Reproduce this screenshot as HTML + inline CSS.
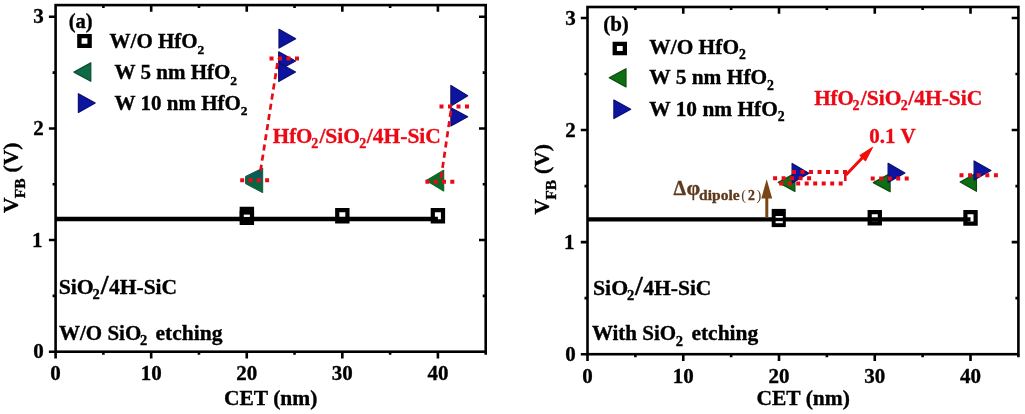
<!DOCTYPE html><html><head><meta charset="utf-8"><style>html,body{margin:0;padding:0;background:#fff;overflow:hidden}svg{display:block}</style></head><body>
<svg width="1025" height="414" viewBox="0 0 1025 414">
<defs><linearGradient id="gt" x1="0" y1="0" x2="0" y2="1"><stop offset="0" stop-color="#0c5560"/><stop offset="0.45" stop-color="#0d5f4a"/><stop offset="1" stop-color="#0e6a30"/></linearGradient></defs>
<rect width="1025" height="414" fill="#fff"/>
<rect x="55.60" y="5.10" width="430.10" height="346.60" fill="none" stroke="#000" stroke-width="2.6"/>
<path d="M55.60,351.70V358.40M103.39,351.70V354.70M103.39,5.10V8.10M151.18,351.70V358.40M151.18,5.10V11.80M198.97,351.70V354.70M198.97,5.10V8.10M246.76,351.70V358.40M246.76,5.10V11.80M294.54,351.70V354.70M294.54,5.10V8.10M342.33,351.70V358.40M342.33,5.10V11.80M390.12,351.70V354.70M390.12,5.10V8.10M437.91,351.70V358.40M437.91,5.10V11.80M485.70,351.70V354.70M55.60,351.70H48.90M55.60,295.88H52.60M485.70,295.88H482.70M55.60,240.07H48.90M485.70,240.07H479.00M55.60,184.25H52.60M485.70,184.25H482.70M55.60,128.43H48.90M485.70,128.43H479.00M55.60,72.62H52.60M485.70,72.62H482.70M55.60,16.80H48.90M485.70,16.80H479.00" stroke="#000" stroke-width="2.6" fill="none"/>
<text x="55.60" y="380.20" font-family="'Liberation Serif', serif" font-weight="bold" font-size="21" fill="#000" stroke="#000" stroke-width="0.35" text-anchor="middle">0</text>
<text x="151.18" y="380.20" font-family="'Liberation Serif', serif" font-weight="bold" font-size="21" fill="#000" stroke="#000" stroke-width="0.35" text-anchor="middle">10</text>
<text x="246.76" y="380.20" font-family="'Liberation Serif', serif" font-weight="bold" font-size="21" fill="#000" stroke="#000" stroke-width="0.35" text-anchor="middle">20</text>
<text x="342.33" y="380.20" font-family="'Liberation Serif', serif" font-weight="bold" font-size="21" fill="#000" stroke="#000" stroke-width="0.35" text-anchor="middle">30</text>
<text x="437.91" y="380.20" font-family="'Liberation Serif', serif" font-weight="bold" font-size="21" fill="#000" stroke="#000" stroke-width="0.35" text-anchor="middle">40</text>
<text x="43.80" y="358.20" font-family="'Liberation Serif', serif" font-weight="bold" font-size="21" fill="#000" stroke="#000" stroke-width="0.35" text-anchor="end">0</text>
<text x="42.40" y="246.57" font-family="'Liberation Serif', serif" font-weight="bold" font-size="21" fill="#000" stroke="#000" stroke-width="0.35" text-anchor="end">1</text>
<text x="43.80" y="134.93" font-family="'Liberation Serif', serif" font-weight="bold" font-size="21" fill="#000" stroke="#000" stroke-width="0.35" text-anchor="end">2</text>
<text x="43.80" y="23.30" font-family="'Liberation Serif', serif" font-weight="bold" font-size="21" fill="#000" stroke="#000" stroke-width="0.35" text-anchor="end">3</text>
<text x="224.00" y="404.70" font-family="'Liberation Serif', serif" font-weight="bold" font-size="21.5" fill="#000" stroke="#000" stroke-width="0.35">CET (nm)</text>
<text transform="translate(18.10,212.90) rotate(-90)" font-family="'Liberation Serif', serif" font-weight="bold" font-size="21.5" stroke="#000" stroke-width="0.35"><tspan x="0" y="0">V</tspan><tspan x="14.7" y="7.3" font-size="15.5">FB</tspan><tspan x="40.5" y="0">(V)</tspan></text>
<line x1="55.60" y1="219" x2="437.91" y2="219" stroke="#000" stroke-width="4.4"/>
<path d="M239.66,206.80h14.40v14.40h-14.40z M243.86,211.00v6.00h6.00v-6.00z" fill="#000" fill-rule="evenodd"/>
<path d="M239.66,210.50h14.40v14.40h-14.40z M243.86,214.70v6.00h6.00v-6.00z" fill="#000" fill-rule="evenodd"/>
<rect x="243.76" y="214.8" width="6" height="2" fill="#fff"/>
<path d="M335.13,207.95h14.40v15.50h-14.40z M339.33,212.15v7.10h6.00v-7.10z" fill="#000" fill-rule="evenodd"/>
<path d="M430.71,207.95h14.40v15.50h-14.40z M434.91,212.15v7.10h6.00v-7.10z" fill="#000" fill-rule="evenodd"/>
<path d="M245.6,176.4L262.7,168.1L262.7,192.7L245.6,183.7z" fill="url(#gt)" stroke="#0d6045" stroke-width="1" stroke-linejoin="round"/>
<path d="M426.35,180.60L443.65,170.30L443.65,190.90z" fill="#0c6a28" stroke="#0c6a28" stroke-width="1.2" stroke-linejoin="round"/>
<path d="M295.70,38.70L279.00,29.30L279.00,48.10z" fill="#0c14a0" stroke="#0a0e70" stroke-width="1.2" stroke-linejoin="round"/>
<path d="M295.50,61.00L278.70,51.90L278.70,70.10z" fill="#0c14a0" stroke="#0a0e70" stroke-width="1.2" stroke-linejoin="round"/>
<path d="M295.50,72.10L278.70,62.70L278.70,81.50z" fill="#0c14a0" stroke="#0a0e70" stroke-width="1.2" stroke-linejoin="round"/>
<path d="M467.70,95.70L450.90,85.40L450.90,106.00z" fill="#0c14a0" stroke="#0a0e70" stroke-width="1.2" stroke-linejoin="round"/>
<path d="M467.70,116.80L450.90,107.70L450.90,125.90z" fill="#0c14a0" stroke="#0a0e70" stroke-width="1.2" stroke-linejoin="round"/>
<path d="M240.20,178.20h4.0v4.0h-4.0zM248.50,178.20h4.0v4.0h-4.0zM256.80,178.20h4.0v4.0h-4.0zM265.10,178.20h4.0v4.0h-4.0z" fill="#ea0a16"/>
<path d="M269.50,56.50h4.0v4.0h-4.0zM278.00,56.50h4.0v4.0h-4.0zM286.50,56.50h4.0v4.0h-4.0zM295.00,56.50h4.0v4.0h-4.0z" fill="#ea0a16"/>
<path d="M425.40,179.80h4.0v4.0h-4.0zM433.70,179.80h4.0v4.0h-4.0zM442.00,179.80h4.0v4.0h-4.0zM450.30,179.80h4.0v4.0h-4.0z" fill="#ea0a16"/>
<path d="M439.50,104.60h4.0v4.0h-4.0zM448.00,104.60h4.0v4.0h-4.0zM456.50,104.60h4.0v4.0h-4.0zM465.00,104.60h4.0v4.0h-4.0z" fill="#ea0a16"/>
<line x1="260.30" y1="172.00" x2="278.20" y2="58.50" stroke="#ea0a16" stroke-width="2.7" stroke-dasharray="6.1 4.2" stroke-dashoffset="9.1"/>
<line x1="440.50" y1="181.70" x2="451.50" y2="106.60" stroke="#ea0a16" stroke-width="2.7" stroke-dasharray="6.1 4.2" stroke-dashoffset="6.66"/>
<text x="272.80" y="143.10" font-family="'Liberation Serif', serif" font-weight="bold" font-size="21" fill="#ea0a16" stroke="#ea0a16" stroke-width="0.35">HfO</text>
<text x="311.20" y="147.50" font-family="'Liberation Serif', serif" font-weight="bold" font-size="14" fill="#ea0a16" stroke="#ea0a16" stroke-width="0.35">2</text>
<text x="319.40" y="143.10" font-family="'Liberation Serif', serif" font-weight="bold" font-size="21.5" fill="#ea0a16" stroke="#ea0a16" stroke-width="0.35">/SiO</text>
<text x="359.30" y="147.50" font-family="'Liberation Serif', serif" font-weight="bold" font-size="14" fill="#ea0a16" stroke="#ea0a16" stroke-width="0.35">2</text>
<text x="366.80" y="143.10" font-family="'Liberation Serif', serif" font-weight="bold" font-size="21.5" fill="#ea0a16" stroke="#ea0a16" stroke-width="0.35">/4H-SiC</text>
<text x="68.70" y="27.80" font-family="'Liberation Serif', serif" font-weight="bold" font-size="20.5" fill="#000" stroke="#000" stroke-width="0.35">(a)</text>
<path d="M77.20,33.90h14.60v14.20h-14.60z M81.60,38.30v5.40h5.80v-5.40z" fill="#000" fill-rule="evenodd"/>
<path d="M74.00,72.10L90.80,62.90L90.80,81.30z" fill="#0e6b45" stroke="#0b4d32" stroke-width="1.2" stroke-linejoin="round"/>
<path d="M95.20,103.10L78.40,93.75L78.40,112.45z" fill="#0c14a0" stroke="#0a0e70" stroke-width="1.2" stroke-linejoin="round"/>
<text x="109.60" y="47.70" font-family="'Liberation Serif', serif" font-weight="bold" font-size="21" fill="#000" stroke="#000" stroke-width="0.35">W/O HfO</text>
<text x="197.60" y="53.50" font-family="'Liberation Serif', serif" font-weight="bold" font-size="13.5" fill="#000" stroke="#000" stroke-width="0.35">2</text>
<text x="114.60" y="79.10" font-family="'Liberation Serif', serif" font-weight="bold" font-size="21" fill="#000" stroke="#000" stroke-width="0.35">W 5 nm HfO</text>
<text x="230.20" y="84.90" font-family="'Liberation Serif', serif" font-weight="bold" font-size="13.5" fill="#000" stroke="#000" stroke-width="0.35">2</text>
<text x="114.60" y="109.60" font-family="'Liberation Serif', serif" font-weight="bold" font-size="21" fill="#000" stroke="#000" stroke-width="0.35">W 10 nm HfO</text>
<text x="240.70" y="115.40" font-family="'Liberation Serif', serif" font-weight="bold" font-size="13.5" fill="#000" stroke="#000" stroke-width="0.35">2</text>
<text x="58.70" y="293.90" font-family="'Liberation Serif', serif" font-weight="bold" font-size="21.8" fill="#000" stroke="#000" stroke-width="0.35">SiO</text>
<text x="92.40" y="299.30" font-family="'Liberation Serif', serif" font-weight="bold" font-size="14.5" fill="#000" stroke="#000" stroke-width="0.35">2</text>
<text x="100.70" y="293.90" font-family="'Liberation Serif', serif" font-weight="bold" font-size="28" fill="#000" stroke="#000" stroke-width="0.35">/</text>
<text x="109.00" y="293.90" font-family="'Liberation Serif', serif" font-weight="bold" font-size="21.5" fill="#000" stroke="#000" stroke-width="0.35">4H-SiC</text>
<text x="59.00" y="339.70" font-family="'Liberation Serif', serif" font-weight="bold" font-size="21" fill="#000" stroke="#000" stroke-width="0.35">W/O SiO</text>
<text x="140.10" y="345.30" font-family="'Liberation Serif', serif" font-weight="bold" font-size="14.5" fill="#000" stroke="#000" stroke-width="0.35">2</text>
<text x="155.50" y="339.70" font-family="'Liberation Serif', serif" font-weight="bold" font-size="21.5" fill="#000" stroke="#000" stroke-width="0.35">etching</text>
<rect x="587.50" y="7.00" width="430.90" height="347.20" fill="none" stroke="#000" stroke-width="2.6"/>
<path d="M587.50,354.20V360.90M635.38,354.20V357.20M635.38,7.00V10.00M683.26,354.20V360.90M683.26,7.00V13.70M731.13,354.20V357.20M731.13,7.00V10.00M779.01,354.20V360.90M779.01,7.00V13.70M826.89,354.20V357.20M826.89,7.00V10.00M874.77,354.20V360.90M874.77,7.00V13.70M922.64,354.20V357.20M922.64,7.00V10.00M970.52,354.20V360.90M970.52,7.00V13.70M1018.40,354.20V357.20M587.50,354.20H580.80M587.50,298.17H584.50M1018.40,298.17H1015.40M587.50,242.13H580.80M1018.40,242.13H1011.70M587.50,186.10H584.50M1018.40,186.10H1015.40M587.50,130.07H580.80M1018.40,130.07H1011.70M587.50,74.03H584.50M1018.40,74.03H1015.40M587.50,18.00H580.80M1018.40,18.00H1011.70" stroke="#000" stroke-width="2.6" fill="none"/>
<text x="587.50" y="382.60" font-family="'Liberation Serif', serif" font-weight="bold" font-size="21" fill="#000" stroke="#000" stroke-width="0.35" text-anchor="middle">0</text>
<text x="683.26" y="382.60" font-family="'Liberation Serif', serif" font-weight="bold" font-size="21" fill="#000" stroke="#000" stroke-width="0.35" text-anchor="middle">10</text>
<text x="779.01" y="382.60" font-family="'Liberation Serif', serif" font-weight="bold" font-size="21" fill="#000" stroke="#000" stroke-width="0.35" text-anchor="middle">20</text>
<text x="874.77" y="382.60" font-family="'Liberation Serif', serif" font-weight="bold" font-size="21" fill="#000" stroke="#000" stroke-width="0.35" text-anchor="middle">30</text>
<text x="970.52" y="382.60" font-family="'Liberation Serif', serif" font-weight="bold" font-size="21" fill="#000" stroke="#000" stroke-width="0.35" text-anchor="middle">40</text>
<text x="575.80" y="360.70" font-family="'Liberation Serif', serif" font-weight="bold" font-size="21" fill="#000" stroke="#000" stroke-width="0.35" text-anchor="end">0</text>
<text x="574.40" y="248.63" font-family="'Liberation Serif', serif" font-weight="bold" font-size="21" fill="#000" stroke="#000" stroke-width="0.35" text-anchor="end">1</text>
<text x="575.80" y="136.57" font-family="'Liberation Serif', serif" font-weight="bold" font-size="21" fill="#000" stroke="#000" stroke-width="0.35" text-anchor="end">2</text>
<text x="575.80" y="24.50" font-family="'Liberation Serif', serif" font-weight="bold" font-size="21" fill="#000" stroke="#000" stroke-width="0.35" text-anchor="end">3</text>
<text x="756.50" y="404.70" font-family="'Liberation Serif', serif" font-weight="bold" font-size="21.5" fill="#000" stroke="#000" stroke-width="0.35">CET (nm)</text>
<text transform="translate(548.80,214.40) rotate(-90)" font-family="'Liberation Serif', serif" font-weight="bold" font-size="21.5" stroke="#000" stroke-width="0.35"><tspan x="0" y="0">V</tspan><tspan x="14.7" y="7.3" font-size="15.5">FB</tspan><tspan x="40.5" y="0">(V)</tspan></text>
<line x1="587.50" y1="219.4" x2="970.52" y2="219.4" stroke="#000" stroke-width="4.2"/>
<rect x="771.7" y="208.9" width="14.1" height="18.2" fill="#000"/>
<rect x="775.6" y="216.0" width="7.2" height="1.8" fill="#fff"/><rect x="775.6" y="221.2" width="7.2" height="2.0" fill="#fff"/>
<path d="M867.57,210.05h14.40v15.50h-14.40z M871.77,214.25v7.10h6.00v-7.10z" fill="#000" fill-rule="evenodd"/>
<path d="M963.32,210.00h14.40v15.80h-14.40z M967.52,214.20v7.40h6.00v-7.40z" fill="#000" fill-rule="evenodd"/>
<path d="M778.30,182.40L794.90,173.30L794.90,191.50z" fill="#0f6d14" stroke="#0a4c0d" stroke-width="1.2" stroke-linejoin="round"/>
<path d="M873.30,182.60L890.10,173.55L890.10,191.65z" fill="#0f6d14" stroke="#0a4c0d" stroke-width="1.2" stroke-linejoin="round"/>
<path d="M960.15,182.10L976.45,172.90L976.45,191.30z" fill="#0f6d14" stroke="#0a4c0d" stroke-width="1.2" stroke-linejoin="round"/>
<path d="M808.90,173.20L792.10,163.50L792.10,182.90z" fill="#0c14a0" stroke="#0a0e70" stroke-width="1.2" stroke-linejoin="round"/>
<path d="M904.90,172.90L888.10,163.30L888.10,182.50z" fill="#0c14a0" stroke="#0a0e70" stroke-width="1.2" stroke-linejoin="round"/>
<path d="M990.90,170.50L974.10,160.90L974.10,180.10z" fill="#0c14a0" stroke="#0a0e70" stroke-width="1.2" stroke-linejoin="round"/>
<path d="M773.10,176.20h4.0v4.0h-4.0zM781.60,176.20h4.0v4.0h-4.0zM790.10,176.20h4.0v4.0h-4.0zM798.60,176.20h4.0v4.0h-4.0zM807.10,176.20h4.0v4.0h-4.0z" fill="#ea0a16"/>
<path d="M792.00,169.90h4.0v4.0h-4.0zM800.50,169.90h4.0v4.0h-4.0zM809.00,169.90h4.0v4.0h-4.0zM817.50,169.90h4.0v4.0h-4.0zM826.00,169.90h4.0v4.0h-4.0zM834.50,169.90h4.0v4.0h-4.0zM843.00,169.90h4.0v4.0h-4.0z" fill="#ea0a16"/>
<path d="M779.20,181.50h4.0v4.0h-4.0zM787.70,181.50h4.0v4.0h-4.0zM796.20,181.50h4.0v4.0h-4.0zM804.70,181.50h4.0v4.0h-4.0zM813.20,181.50h4.0v4.0h-4.0zM821.70,181.50h4.0v4.0h-4.0zM830.20,181.50h4.0v4.0h-4.0zM838.70,181.50h4.0v4.0h-4.0z" fill="#ea0a16"/>
<path d="M845.3,172V181" stroke="#ea0a16" stroke-width="2.6"/>
<path d="M870.70,176.40h4.0v4.0h-4.0zM879.20,176.40h4.0v4.0h-4.0zM887.70,176.40h4.0v4.0h-4.0zM896.20,176.40h4.0v4.0h-4.0zM904.70,176.40h4.0v4.0h-4.0z" fill="#ea0a16"/>
<path d="M959.50,173.30h4.0v4.0h-4.0zM968.10,173.30h4.0v4.0h-4.0zM976.70,173.30h4.0v4.0h-4.0zM985.30,173.30h4.0v4.0h-4.0zM993.90,173.30h4.0v4.0h-4.0z" fill="#ea0a16"/>
<line x1="845.9" y1="175" x2="866" y2="154" stroke="#f50a0a" stroke-width="3"/>
<path d="M872.6,147.3L859.8,155.4L865.5,161z" fill="#f50a0a" stroke="#f50a0a" stroke-width="1" stroke-linejoin="round"/>
<text x="869.30" y="142.70" font-family="'Liberation Serif', serif" font-weight="bold" font-size="21" fill="#ea0a16" stroke="#ea0a16" stroke-width="0.35">0.1 V</text>
<text x="814.20" y="105.40" font-family="'Liberation Serif', serif" font-weight="bold" font-size="21" fill="#ea0a16" stroke="#ea0a16" stroke-width="0.35">HfO</text>
<text x="852.60" y="109.80" font-family="'Liberation Serif', serif" font-weight="bold" font-size="14" fill="#ea0a16" stroke="#ea0a16" stroke-width="0.35">2</text>
<text x="860.80" y="105.40" font-family="'Liberation Serif', serif" font-weight="bold" font-size="21.5" fill="#ea0a16" stroke="#ea0a16" stroke-width="0.35">/SiO</text>
<text x="900.70" y="109.80" font-family="'Liberation Serif', serif" font-weight="bold" font-size="14" fill="#ea0a16" stroke="#ea0a16" stroke-width="0.35">2</text>
<text x="908.20" y="105.40" font-family="'Liberation Serif', serif" font-weight="bold" font-size="21.5" fill="#ea0a16" stroke="#ea0a16" stroke-width="0.35">/4H-SiC</text>
<line x1="766.8" y1="197" x2="766.8" y2="217.5" stroke="#7b4616" stroke-width="3"/>
<path d="M766.7,179.3L772.2,198.6L761.3,198.6z" fill="#7b4616"/>
<text x="673.60" y="195.20" font-family="'Liberation Serif', serif" font-weight="bold" font-size="20" fill="#5e3a1e" stroke="#5e3a1e" stroke-width="0.35">Δ</text>
<text x="686.60" y="194.90" font-family="'Liberation Serif', serif" font-weight="bold" font-size="22" fill="#5e3a1e" stroke="#5e3a1e" stroke-width="0.35">φ</text>
<text x="699.10" y="199.50" font-family="'Liberation Serif', serif" font-weight="bold" font-size="15.5" fill="#5e3a1e" stroke="#5e3a1e" stroke-width="0.35">dipole</text>
<text x="741.20" y="199.60" font-family="'Liberation Serif', serif" font-size="14.5" fill="#5e3a1e" stroke="#5e3a1e" stroke-width="0">(</text>
<text x="748.00" y="199.50" font-family="'Liberation Serif', serif" font-weight="bold" font-size="13.8" fill="#5e3a1e" stroke="#5e3a1e" stroke-width="0.35">2</text>
<text x="756.50" y="199.60" font-family="'Liberation Serif', serif" font-size="14.5" fill="#5e3a1e" stroke="#5e3a1e" stroke-width="0">)</text>
<text x="603.20" y="31.00" font-family="'Liberation Serif', serif" font-weight="bold" font-size="21" fill="#000" stroke="#000" stroke-width="0.35">(b)</text>
<path d="M612.60,41.75h14.40v13.50h-14.40z M616.90,46.05v4.90h5.80v-4.90z" fill="#000" fill-rule="evenodd"/>
<path d="M609.20,77.80L626.00,68.70L626.00,86.90z" fill="#0f6d14" stroke="#0a4c0d" stroke-width="1.2" stroke-linejoin="round"/>
<path d="M630.70,109.30L613.90,100.00L613.90,118.60z" fill="#0c14a0" stroke="#0a0e70" stroke-width="1.2" stroke-linejoin="round"/>
<text x="649.30" y="53.50" font-family="'Liberation Serif', serif" font-weight="bold" font-size="21.4" fill="#000" stroke="#000" stroke-width="0.35">W/O HfO</text>
<text x="738.98" y="59.30" font-family="'Liberation Serif', serif" font-weight="bold" font-size="13.757142857142856" fill="#000" stroke="#000" stroke-width="0.35">2</text>
<text x="649.30" y="84.20" font-family="'Liberation Serif', serif" font-weight="bold" font-size="21.4" fill="#000" stroke="#000" stroke-width="0.35">W 5 nm HfO</text>
<text x="767.10" y="90.00" font-family="'Liberation Serif', serif" font-weight="bold" font-size="13.757142857142856" fill="#000" stroke="#000" stroke-width="0.35">2</text>
<text x="649.30" y="115.60" font-family="'Liberation Serif', serif" font-weight="bold" font-size="21.4" fill="#000" stroke="#000" stroke-width="0.35">W 10 nm HfO</text>
<text x="777.80" y="121.40" font-family="'Liberation Serif', serif" font-weight="bold" font-size="13.757142857142856" fill="#000" stroke="#000" stroke-width="0.35">2</text>
<text x="593.00" y="294.50" font-family="'Liberation Serif', serif" font-weight="bold" font-size="21.8" fill="#000" stroke="#000" stroke-width="0.35">SiO</text>
<text x="627.00" y="300.00" font-family="'Liberation Serif', serif" font-weight="bold" font-size="14.5" fill="#000" stroke="#000" stroke-width="0.35">2</text>
<text x="635.00" y="294.50" font-family="'Liberation Serif', serif" font-weight="bold" font-size="28" fill="#000" stroke="#000" stroke-width="0.35">/</text>
<text x="643.30" y="294.50" font-family="'Liberation Serif', serif" font-weight="bold" font-size="21.5" fill="#000" stroke="#000" stroke-width="0.35">4H-SiC</text>
<text x="591.90" y="340.00" font-family="'Liberation Serif', serif" font-weight="bold" font-size="21" fill="#000" stroke="#000" stroke-width="0.35">With SiO</text>
<text x="675.80" y="345.60" font-family="'Liberation Serif', serif" font-weight="bold" font-size="14.5" fill="#000" stroke="#000" stroke-width="0.35">2</text>
<text x="691.40" y="340.00" font-family="'Liberation Serif', serif" font-weight="bold" font-size="21.5" fill="#000" stroke="#000" stroke-width="0.35">etching</text>
</svg></body></html>
